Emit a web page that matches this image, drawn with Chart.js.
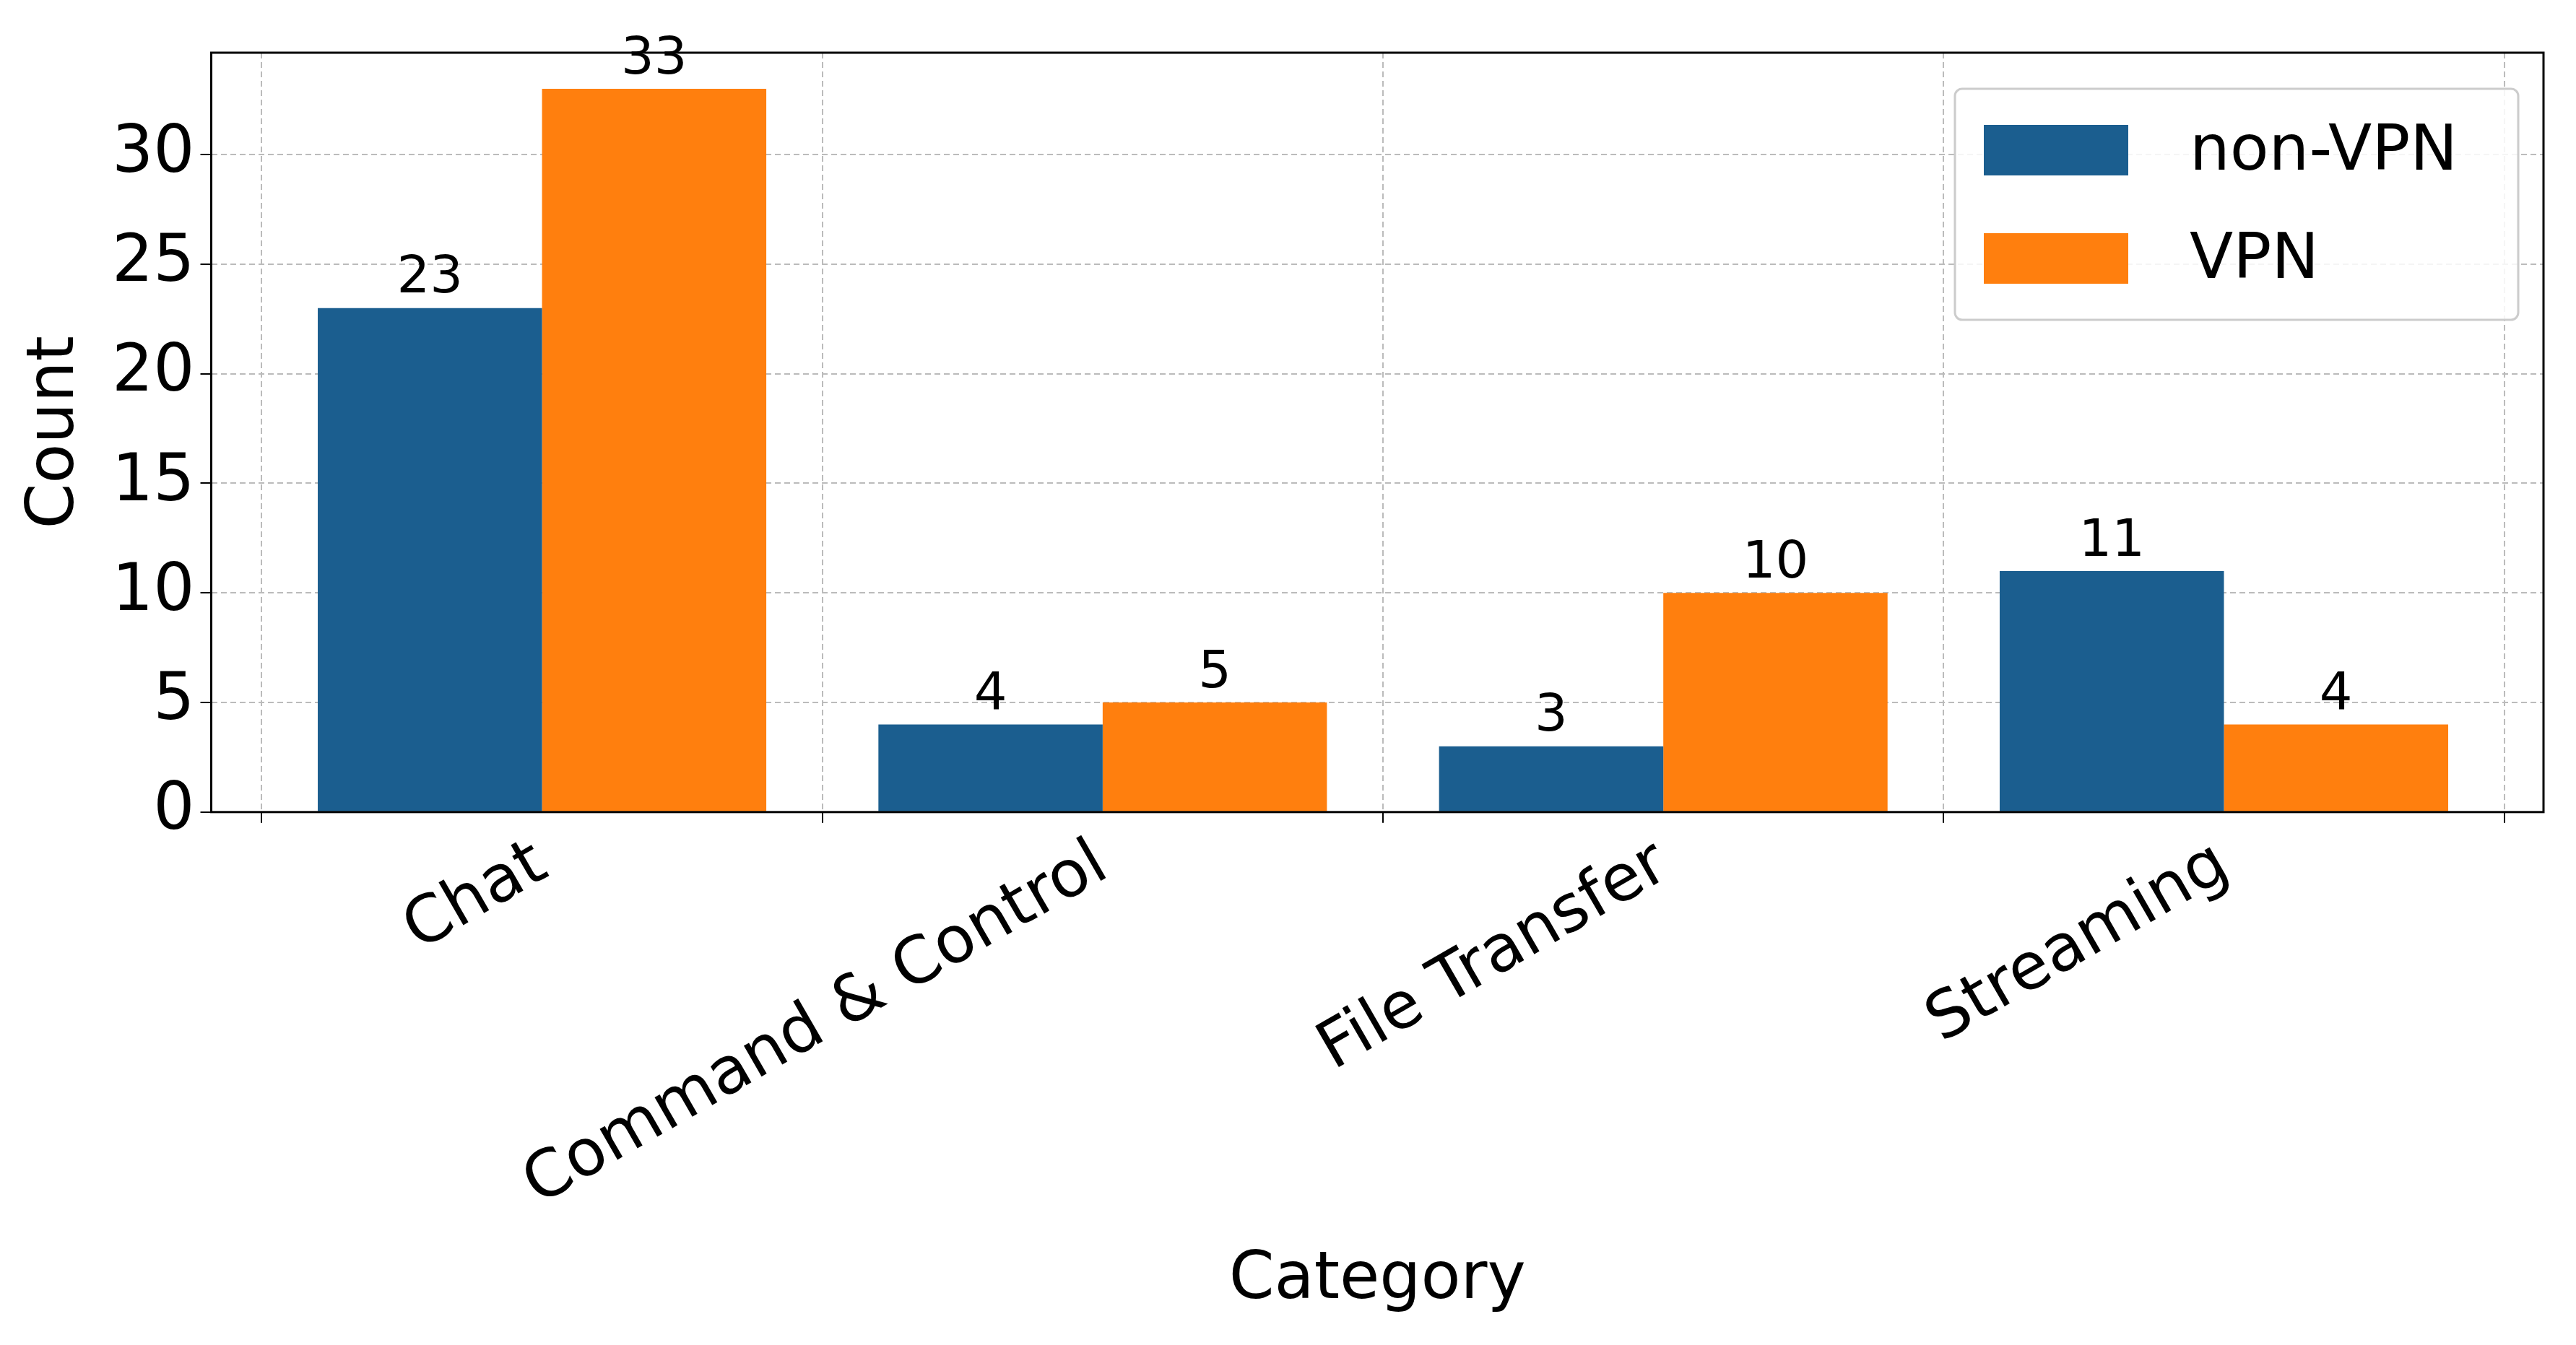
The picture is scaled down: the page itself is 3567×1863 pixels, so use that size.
<!DOCTYPE html>
<html>
<head>
<meta charset="utf-8">
<script src="https://cdn.jsdelivr.net/npm/chart.js@4.4.0/dist/chart.umd.min.js"></script>
<style>
body { margin: 0; background: white; }
#wrap { width: 3567px; height: 1863px; }
</style>
</head>
<body>
<div id="wrap"><canvas id="c"></canvas></div>
<script>
const categories = ['Chat', 'Command & Control', 'File Transfer', 'Streaming'];
const nonVpn = [23, 4, 3, 11];
const vpn = [33, 5, 10, 4];
const yTicks = [0, 5, 10, 15, 20, 25, 30];

const font = 'DejaVu Sans';

// value labels above bars
const barLabels = {
  id: 'barLabels',
  afterDatasetsDraw(chart) {
    const ctx = chart.ctx;
    ctx.save();
    ctx.font = '72px "' + font + '"';
    ctx.fillStyle = '#000';
    ctx.textAlign = 'center';
    ctx.textBaseline = 'bottom';
    chart.data.datasets.forEach((ds, i) => {
      chart.getDatasetMeta(i).data.forEach((bar, j) => {
        ctx.fillText(ds.data[j].y, bar.x, bar.y - 4);
      });
    });
    ctx.restore();
  }
};

// frame + legend inside the plot
const frameLegend = {
  id: 'frameLegend',
  afterDraw(chart) {
    const ctx = chart.ctx, a = chart.chartArea;
    ctx.save();
    ctx.strokeStyle = '#000';
    ctx.lineWidth = 3;
    ctx.strokeRect(a.left, a.top, a.right - a.left, a.bottom - a.top);
    const w = 780, h = 320, x = a.right - w - 35, y = a.top + 50;
    ctx.fillStyle = 'rgba(255,255,255,0.85)';
    ctx.strokeStyle = '#ccc';
    ctx.lineWidth = 3;
    ctx.beginPath();
    ctx.roundRect(x, y, w, h, 10);
    ctx.fill();
    ctx.stroke();
    ctx.font = '88px "' + font + '"';
    ctx.textBaseline = 'middle';
    chart.data.datasets.forEach((ds, i) => {
      const cy = y + 85 + i * 150;
      ctx.fillStyle = ds.backgroundColor;
      ctx.fillRect(x + 40, cy - 35, 200, 70);
      ctx.fillStyle = '#000';
      ctx.fillText(ds.label, x + 325, cy + 4);
    });
    ctx.restore();
  }
};

new Chart(document.getElementById('c'), {
  type: 'bar',
  data: {
    datasets: [
      { label: 'non-VPN', data: nonVpn.map((v, i) => ({ x: i, y: v })), backgroundColor: '#1b5e8f' },
      { label: 'VPN', data: vpn.map((v, i) => ({ x: i, y: v })), backgroundColor: '#ff7f0e' }
    ]
  },
  options: {
    responsive: true,
    maintainAspectRatio: false,
    animation: false,
    devicePixelRatio: 1,
    layout: { padding: { left: 20, right: 45, top: 73, bottom: 30 } },
    plugins: { legend: { display: false }, tooltip: { enabled: false } },
    datasets: { bar: { categoryPercentage: 0.8, barPercentage: 1.0 } },
    scales: {
      x: {
        type: 'linear', min: -0.59, max: 3.57, offset: false,
        afterBuildTicks(axis) { axis.ticks = categories.map((c, i) => ({ value: i })); },
        grid: { color: '#bbb', lineWidth: 2, tickLength: 15, tickColor: '#000' },
        border: { display: false, dash: [8, 5] },
        ticks: {
          font: { family: font, size: 90 }, color: '#000', minRotation: 30, maxRotation: 30, padding: 5,
          callback: v => categories[v]
        },
        title: { display: true, text: 'Category', font: { family: font, size: 90 }, color: '#000', padding: { top: 20 } }
      },
      y: {
        min: 0, max: 34.65,
        afterBuildTicks(axis) { axis.ticks = yTicks.map(v => ({ value: v })); },
        grid: { color: '#bbb', lineWidth: 2, tickLength: 15, tickColor: '#000' },
        border: { display: false, dash: [8, 5] },
        ticks: { font: { family: font, size: 90 }, color: '#000', padding: 8 },
        title: { display: true, text: 'Count', font: { family: font, size: 90 }, color: '#000', padding: { bottom: 15 } }
      }
    }
  },
  plugins: [barLabels, frameLegend]
});
</script>
</body>
</html>
